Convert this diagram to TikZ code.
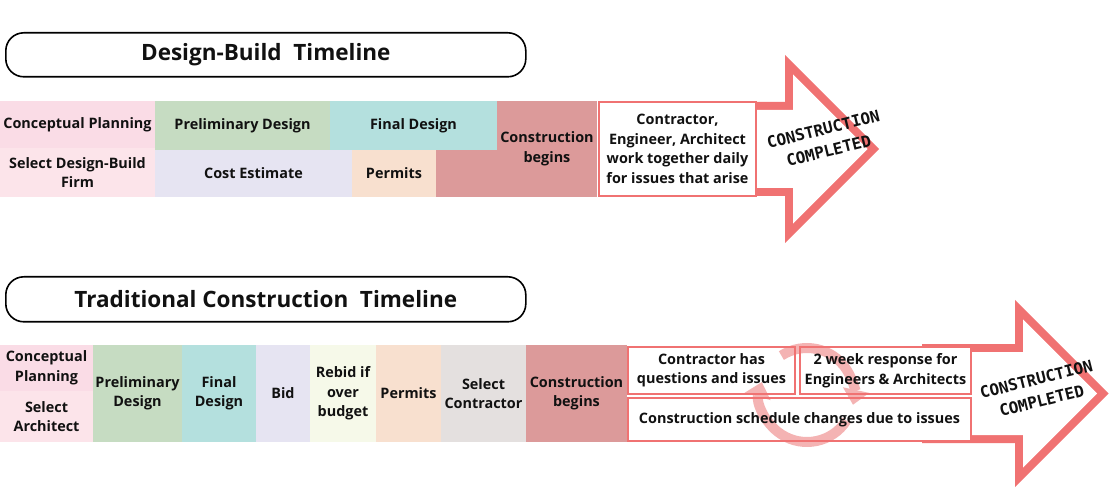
\documentclass[tikz,border=0pt]{standalone}
\usepackage{fontspec}
\setmainfont{Open Sans}
\newfontfamily\monofnt{DejaVu Sans Mono}
\usetikzlibrary{arrows.meta,calc}
\pgfdeclarelayer{bg}
\pgfdeclarelayer{mid}
\pgfsetlayers{bg,mid,main}
\definecolor{txt}{HTML}{111111}
\definecolor{pinkA}{HTML}{FADCE6}
\definecolor{pinkB}{HTML}{FCE4EA}
\definecolor{greenc}{HTML}{C6DCC2}
\definecolor{tealc}{HTML}{B4E0DE}
\definecolor{lavc}{HTML}{E6E4F2}
\definecolor{peachc}{HTML}{F8E0CF}
\definecolor{redc}{HTML}{DC9A9A}
\definecolor{yelc}{HTML}{F6F9E9}
\definecolor{greyc}{HTML}{E4E0DF}
\definecolor{arrowred}{HTML}{F07272}
\definecolor{iconc}{HTML}{F4B3B3}
\begin{document}
\begin{tikzpicture}[x=1pt,y=-1pt,
  cell/.style={anchor=north west, inner sep=0pt, outer sep=0pt, align=center,
    text=txt, font=\fontsize{14.4}{19.5}\selectfont\bfseries},
  wbox/.style={cell, draw=arrowred, line width=2pt},
  pill/.style={anchor=north west, draw=black, line width=1.6pt, rounded corners=18pt,
    inner sep=0pt, text=txt, font=\fontsize{22.5}{25}\selectfont\bfseries},
  donetext/.style={text=txt, align=center, rotate=14,
    font=\fontsize{16}{22}\monofnt\bfseries},
  cyclearc/.style={iconc, line width=10pt, -{Triangle[width=26pt,length=15pt]}}]
\useasboundingbox (0,0) rectangle (1112,497);

% ---------- titles ----------
\node[pill, minimum width=520pt, minimum height=44pt] (t1) at (5,32) {Design-Build\ \ Timeline};
\node[pill, minimum width=520pt, minimum height=45pt] (t2) at (5,276) {Traditional Construction\ \ Timeline};

% ---------- big arrows (background layer) ----------
\begin{pgfonlayer}{bg}
\fill[arrowred] (691,102) -- (785,102) -- (785,55) -- (879,149) -- (785,243) -- (785,196) -- (691,196) -- cycle;
\fill[white] (691,110) -- (793,110) -- (793,74.3) -- (867.7,149) -- (793,223.7) -- (793,188) -- (691,188) -- cycle;
\fill[arrowred] (922,344) -- (1015,344) -- (1015,300) -- (1108.5,393.5) -- (1015,487) -- (1015,443) -- (922,443) -- cycle;
\fill[white] (922,352) -- (1023,352) -- (1023,319.3) -- (1097.2,393.5) -- (1023,467.7) -- (1023,435) -- (922,435) -- cycle;
\end{pgfonlayer}

% ---------- design-build row ----------
\node[cell, fill=pinkA, minimum width=155pt, minimum height=47pt] (cp1) at (0,101) {Conceptual Planning};
\node[cell, fill=pinkB, minimum width=155pt, minimum height=49pt] (sd1) at (0,148) {Select Design-Build\\Firm};
\node[cell, fill=greenc, minimum width=175pt, minimum height=49pt] (pd1) at (155,101) {Preliminary Design};
\node[cell, fill=tealc, minimum width=167pt, minimum height=49pt] (fd1) at (330,101) {Final Design};
\node[cell, fill=lavc, minimum width=197pt, minimum height=47pt] (ce1) at (155,150) {Cost Estimate};
\node[cell, fill=peachc, minimum width=84pt, minimum height=47pt] (pm1) at (352,150) {Permits};
\node[cell, fill=redc, minimum width=61pt, minimum height=47pt] (rb1) at (436,150) {};
\node[cell, fill=redc, minimum width=100pt, minimum height=96pt] (cb1) at (497,101) {Construction\\begins};
\node[wbox, fill=white, minimum width=157pt, minimum height=94pt] (wk1) at (599,102)
  {Contractor,\\Engineer, Architect\\work together daily\\for issues that arise};
\node[donetext] (cc1) at (826,140) {CONSTRUCTION\\COMPLETED};

% ---------- traditional row ----------
\node[cell, fill=pinkA, minimum width=93pt, minimum height=46pt] (cp2) at (0,345) {Conceptual\\Planning};
\node[cell, fill=pinkB, minimum width=93pt, minimum height=51pt] (sa2) at (0,391) {Select\\Architect};
\node[cell, fill=greenc, minimum width=89pt, minimum height=97pt] (pd2) at (93,345) {Preliminary\\Design};
\node[cell, fill=tealc, minimum width=74pt, minimum height=97pt] (fd2) at (182,345) {Final\\Design};
\node[cell, fill=lavc, minimum width=54pt, minimum height=97pt] (bd2) at (256,345) {Bid};
\node[cell, fill=yelc, minimum width=66pt, minimum height=97pt] (rb2) at (310,345) {Rebid if\\over\\budget};
\node[cell, fill=peachc, minimum width=65pt, minimum height=97pt] (pm2) at (376,345) {Permits};
\node[cell, fill=greyc, minimum width=85pt, minimum height=97pt] (sc2) at (441,345) {Select\\Contractor};
\node[cell, fill=redc, minimum width=101pt, minimum height=97pt] (cb2) at (526,345) {Construction\\begins};

\node[wbox, minimum width=167pt, minimum height=47pt] (q2) at (628,347) {Contractor has\\questions and issues};
\node[wbox, minimum width=171pt, minimum height=47pt] (r2) at (800,347) {2 week response for\\Engineers \& Architects};
\node[wbox, minimum width=343pt, minimum height=43pt] (s2) at (628,398) {Construction schedule changes due to issues};
\node[donetext] (cc2) at (1039,390) {CONSTRUCTION\\COMPLETED};

% white fills behind the boxes, cycle icon between fills and boxes
\begin{pgfonlayer}{bg}
\fill[white] (q2.north west) rectangle (q2.south east);
\fill[white] (r2.north west) rectangle (r2.south east);
\fill[white] (s2.north west) rectangle (s2.south east);
\end{pgfonlayer}
\begin{pgfonlayer}{mid}
\begin{scope}[shift={(807,395)}, x=1pt, y=1pt]
\draw[cyclearc] (123:47) arc[start angle=123, end angle=-12, radius=47];
\draw[cyclearc] (-33:47) arc[start angle=-33, end angle=-196, radius=47];
\end{scope}
\end{pgfonlayer}
\end{tikzpicture}
\end{document}
